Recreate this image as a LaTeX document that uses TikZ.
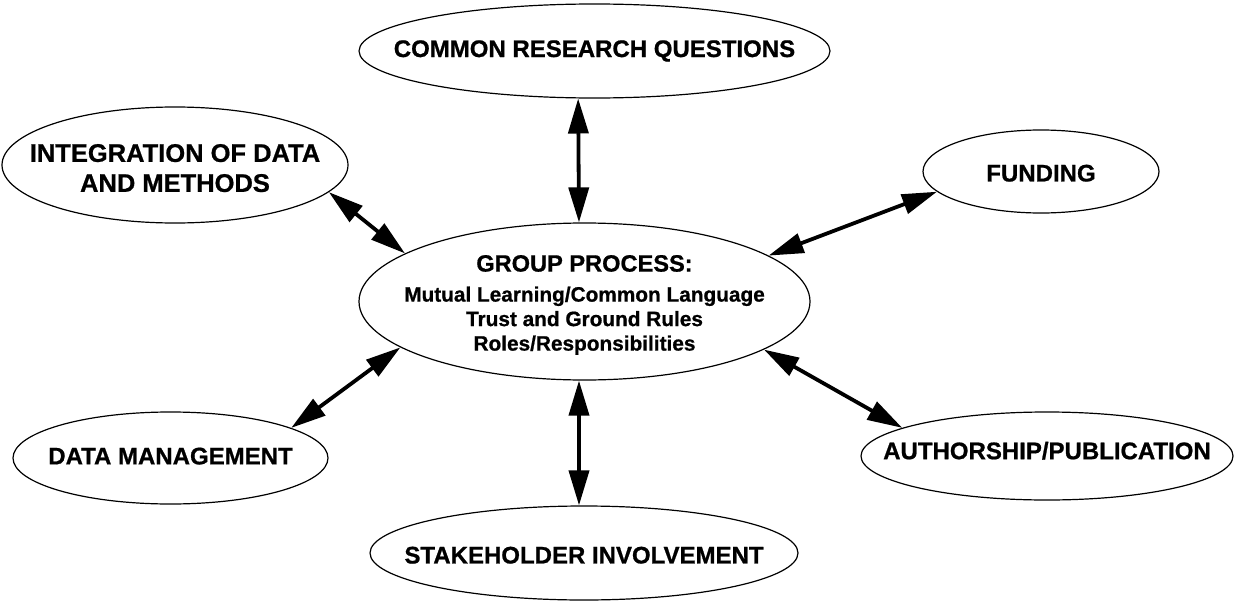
\documentclass[tikz,border=0pt]{standalone}
\usepackage{fontspec}
\setmainfont{Liberation Sans}[BoldFeatures={FakeBold=0.8}]
\usetikzlibrary{shapes.geometric,arrows.meta}
\tikzset{
  oval/.style={ellipse, draw=black, line width=1.2pt, fill=white, inner xsep=-120pt, inner ysep=0pt,
    align=center, font=\bfseries\fontsize{24}{29}\selectfont},
  biarrow/.style={line width=3.8pt, {Triangle[length=35pt,width=20pt]}-{Triangle[length=35pt,width=20pt]}}
}
\begin{document}
\begin{tikzpicture}[x=1pt,y=-1pt]
\useasboundingbox[fill=white] (0,0) rectangle (1240,605);
\node[oval, minimum width=451pt, minimum height=157pt, font=\bfseries\fontsize{20.8}{24.5}\selectfont] (gp) at (584.5,301.5)
  {\rule{0pt}{23.5pt}{\fontsize{23.6}{24.5}\selectfont GROUP PROCESS:}\\[5.5pt]
   Mutual Learning/Common Language\\
   Trust and Ground Rules\\
   Roles/Responsibilities};
\node[oval, minimum width=471pt, minimum height=94pt] (crq) at (594.5,51) {COMMON RESEARCH QUESTIONS};
\node[oval, minimum width=346pt, minimum height=116pt, font=\bfseries\fontsize{25.5}{30}\selectfont] (integ) at (175,165) {\rule{0pt}{24pt}INTEGRATION OF DATA\\AND METHODS};
\node[oval, minimum width=236pt, minimum height=83pt] (fund) at (1041,171.5) {\rule{0pt}{20.2pt}FUNDING};
\node[oval, minimum width=372pt, minimum height=88pt] (auth) at (1047,456) {\rule[-11pt]{0pt}{11pt}AUTHORSHIP/PUBLICATION};
\node[oval, minimum width=315pt, minimum height=92pt] (dm) at (170.5,458) {\rule[-4pt]{0pt}{4pt}DATA MANAGEMENT};
\node[oval, minimum width=428pt, minimum height=94pt] (stake) at (584,553) {\rule{0pt}{21.2pt}STAKEHOLDER INVOLVEMENT};
\draw[biarrow] (crq.251.7) -- (gp.94);
\draw[biarrow] (gp.266) -- (stake.96.1);
\draw[biarrow] (integ.-10.4) -- (gp.165.1);
\draw[biarrow] (gp.14.3) -- (fund.191.3);
\draw[biarrow] (gp.-15.6) -- (auth.169.4);
\draw[biarrow] (dm.14.9) -- (gp.194.7);
\end{tikzpicture}
\end{document}
